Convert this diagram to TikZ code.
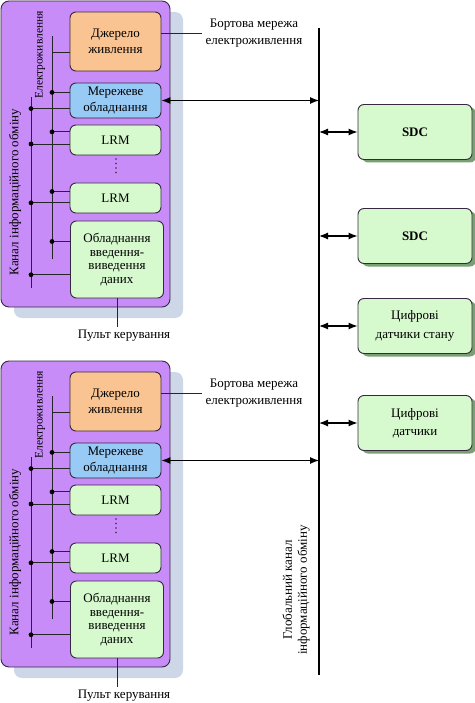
\documentclass[tikz,border=0pt]{standalone}
\usepackage{fontspec}
\setmainfont{Liberation Serif}
\usetikzlibrary{calc,arrows.meta}
\definecolor{consolefill}{RGB}{200,140,248}
\definecolor{consoleshadow}{RGB}{206,215,231}
\definecolor{powerfill}{RGB}{250,196,146}
\definecolor{netfill}{RGB}{152,202,246}
\definecolor{modfill}{RGB}{214,250,206}
\definecolor{modshadow}{RGB}{120,160,115}
\definecolor{edgecol}{RGB}{55,40,65}
\tikzset{
	unit/.style={draw=edgecol, line width=0.9pt, rounded corners=6pt, align=center, minimum width=91pt, inner sep=1pt, font=\fontsize{13}{15.5}\selectfont},
	busline/.style={line width=0.9pt, draw=black!85},
	biarrow/.style={{Latex[length=9pt,width=7pt]}-{Latex[length=9pt,width=7pt]}, line width=1.2pt},
	lbl/.style={align=center, font=\fontsize{13}{16.5}\selectfont},
}

\begin{document}
\begin{tikzpicture}[x=1pt,y=-1pt]
		\useasboundingbox (0,0) rectangle (474,703);
		%%%%% START %%%%%
		
		\coordinate (gtop) at (319,28);
		\coordinate (gbot) at (319,675);
		
		\foreach \g/\dy in {a/0,b/360}{
		\begin{scope}[shift={(0,\dy)}]
			\fill[consoleshadow, rounded corners=8pt] (14,12) rectangle (183,318);
			\filldraw[fill=consolefill, draw=edgecol, line width=0.9pt, rounded corners=8pt] (1,1) rectangle (170,307);
			
			\node[unit, fill=powerfill, minimum height=59pt] (pwr\g) at (115.5,41.5) {Джерело\\живлення};
			\node[unit, fill=netfill, minimum height=35pt] (net\g) at (115.5,100.5) {Мережеве\\обладнання};
			\node[unit, fill=modfill, minimum height=30pt] (lrmA\g) at (115.5,140) {LRM};
			\node[unit, fill=modfill, minimum height=30pt] (lrmB\g) at (115.5,198) {LRM};
			\node[unit, fill=modfill, minimum height=77pt, minimum width=93pt, font=\fontsize{13}{13.5}\selectfont] (io\g) at (117,259.5) {Обладнання\\введення-\\виведення\\даних};
			
			% dots between the two LRM
			\foreach \k in {0,...,3}
				\fill[edgecol] (116,159+\k*4.5) circle (0.8);
			
			% power and channel lines
			\coordinate (ptop\g) at (52,36);
			\coordinate (pbot\g) at (52,259);
			\coordinate (ctop\g) at (31,97);
			\coordinate (cbot\g) at (31,288);
			\draw[busline] (ptop\g) -- (pbot\g);
			\draw[busline] (ctop\g) -- (cbot\g);
			\draw[busline] (pwr\g.193) -- (ptop\g |- pwr\g.193);
			\foreach \n/\a/\b in {net/170/190, lrmA/170/185, lrmB/172/186, io/159/198}{
				\draw[busline] (\n\g.\a) -- (ptop\g |- \n\g.\a);
				\fill (ptop\g |- \n\g.\a) circle (2.4);
				\draw[busline] (\n\g.\b) -- (ctop\g |- \n\g.\b);
				\fill (ctop\g |- \n\g.\b) circle (2.4);
			}
			
			\node[rotate=90, font=\fontsize{11.5}{13}\selectfont] (pwrlbl\g) at (40,55) {Електроживлення};
			\node[rotate=90, font=\fontsize{13}{15}\selectfont] (chlbl\g) at (15,192) {Канал інформаційного обміну};
			
			\node[lbl] (grid\g) at (254,33) {Бортова мережа\\електроживлення};
			\draw[busline] (pwr\g.10) -- (pwr\g.10 -| grid\g.west);
			
			\node[lbl] (panel\g) at (124,336) {Пульт керування};
			\draw[busline] (io\g.south) -- (io\g.south |- panel\g.north);
			
			\draw[biarrow] (net\g.east) -- (net\g.east -| gtop);
		\end{scope}
		}
		
		% global channel
		\draw[line width=2.6pt] (gtop) -- (gbot);
		\node[lbl, rotate=90, font=\fontsize{13}{15}\selectfont] (glbl) at (296,590) {Глобальний канал\\інформаційного обміну};
		
		% right devices
		\foreach \yy in {132,236,326,423}
			\fill[modshadow, rounded corners=6pt] (362,\yy-24.5) rectangle (476,\yy+30.5);
		\node[unit, fill=modfill, minimum width=114pt, minimum height=55pt, font=\bfseries\fontsize{13}{15}\selectfont] (sdcA) at (415,132) {SDC};
		\node[unit, fill=modfill, minimum width=114pt, minimum height=55pt, font=\bfseries\fontsize{13}{15}\selectfont] (sdcB) at (415,236) {SDC};
		\node[unit, fill=modfill, minimum width=114pt, minimum height=55pt, font=\fontsize{13}{18.5}\selectfont] (stateS) at (415,326) {Цифрові\\датчики стану};
		\node[unit, fill=modfill, minimum width=114pt, minimum height=55pt, font=\fontsize{13}{18.5}\selectfont] (digS) at (415,423) {Цифрові\\датчики};
		
		\foreach \d in {sdcA,sdcB,stateS,digS}
			\draw[biarrow] (\d.west -| gtop) -- (\d.west);
		
		%%%%% END %%%%%
\end{tikzpicture}
\end{document}
